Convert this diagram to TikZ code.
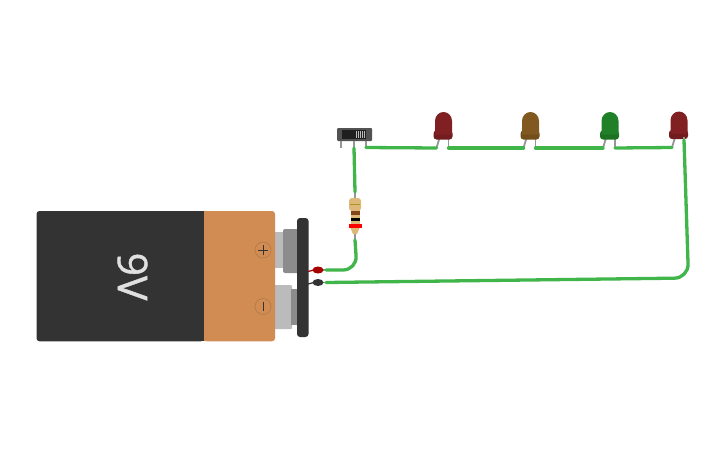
\documentclass[tikz,border=0pt]{standalone}
\usepackage{fontspec}
\setmainfont{Open Sans}
\definecolor{wirecolor}{RGB}{64,181,74}
\definecolor{darkcolor}{RGB}{51,51,51}
\definecolor{coppercolor}{RGB}{208,140,82}
\definecolor{coppercolor2}{RGB}{176,122,74}
\definecolor{snapcolor1}{RGB}{187,187,187}
\definecolor{snapcolor2}{RGB}{140,140,140}
\definecolor{pincolor}{RGB}{150,150,150}
\definecolor{ledcolor1}{RGB}{128,32,34}
\definecolor{ledcolor2}{RGB}{128,88,32}
\definecolor{ledcolor3}{RGB}{32,128,40}
\definecolor{rescolor}{RGB}{222,184,120}
\definecolor{bandcolor}{RGB}{130,70,25}
\tikzset{
  wire/.style={draw=wirecolor, line width=3.3pt, line cap=round},
  pin/.style={draw=pincolor, line width=1.8pt},
  terminal/.style={draw=coppercolor2, fill=coppercolor, line width=0.6pt},
  sign/.style={draw=darkcolor, line width=0.9pt},
  pics/led/.style={code={
    \coordinate (-a) at (-7,36);
    \coordinate (-k) at (5,36);
    \draw[pin] (-4,26) -- (-7,36);
    \draw[pin] (5,26) -- (5,36);
    \fill[#1!88!black, rounded corners=3pt] (-10,18.5) rectangle (9,27.5);
    \fill[#1] (-8.5,22.5) -- (-8.5,9) arc[start angle=180, end angle=0, x radius=8.5pt, y radius=9pt] -- (8.5,22.5) -- cycle;
  }}
}
\begin{document}
\begin{tikzpicture}[x=1pt,y=-1pt]
  \useasboundingbox (0,0) rectangle (725,453);

  % Battery
  \fill[snapcolor1] (275,232) rectangle (284,268);
  \fill[snapcolor2, rounded corners=2pt] (283,229) rectangle (299,273);
  \fill[snapcolor1, rounded corners=1pt] (270,285) rectangle (292,329);
  \fill[snapcolor2] (291,289) rectangle (299,325);
  \fill[darkcolor, rounded corners=3pt] (297,218) rectangle (308.5,337);
  \fill[darkcolor, rounded corners=3pt] (36.5,211) -- (204,211) -- (204,341.3) -- (36.5,341.3) -- cycle;
  \fill[darkcolor] (100,211) rectangle (204,341.3);
  \fill[coppercolor, rounded corners=3pt] (204,211) -- (275,211) -- (275,341.3) -- (204,341.3) -- cycle;
  \fill[coppercolor] (204,211) rectangle (265,341.3);
  \node[rotate=-90, text=black!12, font=\fontsize{41}{41}\selectfont\addfontfeatures{FakeBold=1}] (batlabel) at (132.5,276.5) {9V};
  \draw[terminal] (263,250) circle (8);
  \draw[sign] (258,250) -- (268,250) (263,245) -- (263,255);
  \draw[terminal] (263,306.5) circle (8);
  \draw[sign] (263,302) -- (263,311);

  % Snap leads
  \coordinate (redlead) at (326,270);
  \coordinate (blacklead) at (326,282.5);
  \draw[pin] (323,270) -- (redlead);
  \draw[pin] (323,282.5) -- (blacklead);
  \draw[red!65!black, line width=1.3pt] (308,271.5) -- (314,270);
  \fill[red!65!black] (318,270) ellipse (5.5 and 3.5);
  \draw[darkcolor, line width=1.3pt] (308,284) -- (314,282.5);
  \fill[darkcolor] (318,282.5) ellipse (5.5 and 3.5);

  % Switch
  \coordinate (swa) at (341,148);
  \coordinate (swb) at (354,148);
  \coordinate (swc) at (366,147.5);
  \fill[black!68, rounded corners=1pt] (337,128) rectangle (372,141);
  \fill[black!88] (342,130) rectangle (366,139);
  \foreach \x in {356.5,358.5,360.5,362.5,364.5}
    \draw[snapcolor1, line width=0.9pt] (\x,131) -- (\x,138);
  \draw[pin] (341,141) -- (swa);
  \draw[pin] (354,141) -- (swb);
  \draw[pin] (366,141) -- (swc);

  % Resistor
  \coordinate (resa) at (355,192);
  \coordinate (resb) at (355,240);
  \draw[pin] (resa) -- (resb);
  \fill[rescolor, rounded corners=3pt] (349,198) rectangle (361,211);
  \fill[rescolor] (350.5,208) rectangle (359.5,228);
  \fill[rescolor] (349.5,226) -- (360.5,226) -- (357,234) -- (353,234) -- cycle;
  \fill[olive!70!rescolor] (350,203.5) rectangle (360,205);
  \fill[bandcolor] (350.5,211) rectangle (359.5,215);
  \fill[black] (350.5,217.5) rectangle (359.5,221);
  \fill[red] (348.5,224) rectangle (361.5,228);

  % LEDs
  \pic (ledone) at (443.5,112) {led=ledcolor1};
  \pic (ledtwo) at (530.5,112) {led=ledcolor2};
  \pic (ledthree) at (610,112) {led=ledcolor3};
  \pic (ledfour) at (679,111.5) {led=ledcolor1};

  % Wires
  \coordinate (cornera) at (357,270);
  \coordinate (cornerb) at (688.5,278);
  \coordinate (fourtop) at (684,140);
  \draw[pin] (684,137) -- (fourtop);
  \draw[wire] (swb) -- (resa);
  \draw[wire, rounded corners=14pt] (resb) -- (cornera) -- (redlead);
  \draw[wire] (swc) -- (ledone-a);
  \draw[wire] (ledone-k) -- (ledtwo-a);
  \draw[wire] (ledtwo-k) -- (ledthree-a);
  \draw[wire] (ledthree-k) -- (ledfour-a);
  \draw[wire, rounded corners=14pt] (fourtop) -- (cornerb) -- (blacklead);
\end{tikzpicture}
\end{document}
